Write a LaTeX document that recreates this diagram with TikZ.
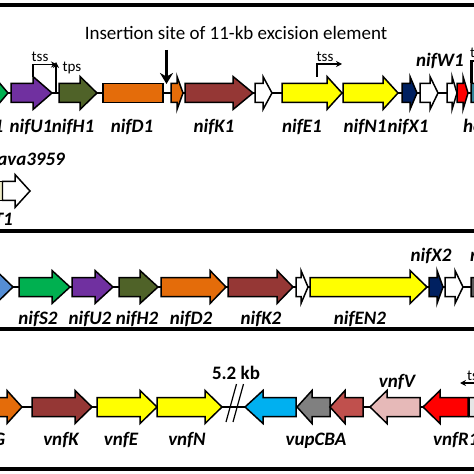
\documentclass[tikz,border=0pt]{standalone}
\usepackage{fontspec}
\setmainfont{Carlito}
\usepackage{tikz}
\usepackage{xcolor}
\usetikzlibrary{arrows.meta}

\definecolor{grn}{RGB}{0,176,80}
\definecolor{prp}{RGB}{112,48,160}
\definecolor{olv}{RGB}{79,98,40}
\definecolor{org}{RGB}{228,108,10}
\definecolor{brn}{RGB}{149,55,53}
\definecolor{ylw}{RGB}{255,255,0}
\definecolor{nvy}{RGB}{0,32,96}
\definecolor{stb}{RGB}{85,142,213}
\definecolor{sky}{RGB}{0,176,240}
\definecolor{gry}{RGB}{128,128,128}
\definecolor{dgy}{RGB}{89,89,89}
\definecolor{ird}{RGB}{192,80,77}
\definecolor{pnk}{RGB}{230,185,184}
\definecolor{tel}{RGB}{49,133,155}
\definecolor{bge}{RGB}{238,236,200}
\definecolor{lgy}{RGB}{230,230,230}

\newcommand{\gene}[5]{\filldraw [fill=#5, draw=black, line width=1.5pt] (#1,#4+0.95) -- (#2,#4+0.95) -- (#2,#4+1.65) -- (#3,#4) -- (#2,#4-1.65) -- (#2,#4-0.95) -- (#1,#4-0.95) -- cycle;}

\begin{document}
\begin{tikzpicture}[scale=0.3515]
\tikzstyle{every node}+=[inner sep=0pt]
\tikzstyle{lbl}=[font=\fontsize{19}{22}\selectfont\bfseries\itshape, anchor=base]
\tikzstyle{txt}=[font=\fontsize{19}{22}\selectfont, anchor=base]
\tikzstyle{sml}=[font=\fontsize{15}{18}\selectfont, anchor=base]
\tikzstyle{prom}=[line width=1.5pt, -{Stealth[length=6pt,width=6pt]}]
\useasboundingbox (0,0) rectangle (47.4,-47.4);
\fill [white] (0,0) rectangle (47.4,-47.4);
\clip (0,0) rectangle (47.4,-47.4);
\draw [line width=4pt] (0,-0.5) -- (47.4,-0.5);
\draw [line width=4pt] (0,-23.1) -- (47.4,-23.1);
\draw [line width=4pt] (0,-32.9) -- (47.4,-32.9);
\draw [line width=4pt] (0,-46.9) -- (47.4,-46.9);
\draw (23.6,-4.0) node [txt] {Insertion site of 11-kb excision element};
\draw [line width=1.5pt] (0,-9.3) -- (47.4,-9.3);
\gene{-3}{-0.6}{0.8}{-9.3}{grn}
\gene{1.1}{3.3}{5.2}{-9.3}{prp}
\gene{5.9}{8.0}{9.7}{-9.3}{olv}
\filldraw [fill=org, draw=black, line width=1.5pt] (10.3,-8.35) rectangle (16.3,-10.25);
\gene{17.1}{17.7}{18.3}{-9.3}{org}
\gene{18.5}{23.3}{25.3}{-9.3}{brn}
\gene{25.5}{26.3}{27.2}{-9.3}{white}
\gene{28.2}{32.7}{34.2}{-9.3}{ylw}
\gene{34.3}{38.3}{39.8}{-9.3}{ylw}
\gene{40.2}{41.0}{41.7}{-9.3}{nvy}
\gene{42.0}{43.0}{43.8}{-9.3}{white}
\gene{44.7}{45.2}{45.7}{-9.3}{white}
\gene{45.7}{46.3}{46.8}{-9.3}{red}
\gene{47.1}{49}{50}{-9.3}{tel}
\draw [line width=3pt, -{Stealth[length=11pt,width=13pt]}] (16.65,-5.0) -- (16.65,-8.4);
\draw [prom] (3.3,-7.7) -- (3.3,-6.45) -- (5.7,-6.45);
\draw (4.0,-6.2) node [sml] {tss};
\draw [prom] (5.6,-9.3) -- (5.6,-6.2);
\draw (7.2,-7.2) node [sml] {tps};
\draw [prom] (31.7,-7.7) -- (31.7,-6.4) -- (34.2,-6.4);
\draw (32.5,-6.2) node [sml] {tss};
\draw [line width=2.5pt] (47.15,-8.3) -- (47.15,-6.1) -- (48.5,-6.1);
\draw (47.0,-5.75) node [sml, anchor=base west] {tss};
\draw (0.35,-13.3) node [lbl, anchor=base east] {nifS1};
\draw (3.1,-13.3) node [lbl] {nifU1};
\draw (7.3,-13.3) node [lbl] {nifH1};
\draw (13.2,-13.3) node [lbl] {nifD1};
\draw (21.4,-13.3) node [lbl] {nifK1};
\draw (30.2,-13.3) node [lbl] {nifE1};
\draw (36.5,-13.3) node [lbl] {nifN1};
\draw (40.8,-13.3) node [lbl] {nifX1};
\draw (44.0,-6.7) node [lbl] {nifW1};
\draw (46.3,-13.3) node [lbl, anchor=base west] {hesA};
\filldraw [fill=bge, draw=black, line width=1.5pt] (-1,-18.15) rectangle (0.25,-20.05);
\gene{0.25}{1.5}{3.0}{-19.1}{white}
\draw (6.5,-16.6) node [lbl, anchor=base east] {ava3959};
\draw (1.3,-22.5) node [lbl, anchor=base east] {nifT1};
\draw [line width=1.5pt] (0,-28.7) -- (47.4,-28.7);
\gene{-3}{-0.4}{1.3}{-28.7}{stb}
\gene{1.9}{5.2}{7.0}{-28.7}{grn}
\gene{7.2}{9.5}{11.3}{-28.7}{prp}
\gene{11.9}{14.0}{15.8}{-28.7}{olv}
\gene{16.1}{21.0}{22.6}{-28.7}{org}
\gene{22.8}{27.7}{29.3}{-28.7}{brn}
\gene{29.6}{30.1}{30.8}{-28.7}{white}
\gene{31.0}{41.0}{42.7}{-28.7}{ylw}
\gene{42.9}{43.7}{44.3}{-28.7}{nvy}
\gene{44.5}{45.5}{46.3}{-28.7}{white}
\gene{47.1}{49}{50}{-28.7}{dgy}
\draw (3.8,-32.4) node [lbl] {nifS2};
\draw (9.0,-32.4) node [lbl] {nifU2};
\draw (13.7,-32.4) node [lbl] {nifH2};
\draw (19.1,-32.4) node [lbl] {nifD2};
\draw (26.1,-32.4) node [lbl] {nifK2};
\draw (36.0,-32.4) node [lbl] {nifEN2};
\draw (43.1,-26.1) node [lbl] {nifX2};
\draw (47.0,-26.1) node [lbl, anchor=base west] {nifW2};
\draw [line width=1.5pt] (0,-40.7) -- (47.4,-40.7);
\gene{-3}{0.7}{2.2}{-40.7}{org}
\gene{3.2}{7.5}{9.2}{-40.7}{brn}
\gene{9.7}{14.0}{15.7}{-40.7}{ylw}
\gene{15.7}{20.5}{22.2}{-40.7}{ylw}
\draw [line width=1.2pt] (22.6,-42.2) -- (23.65,-38.4);
\draw [line width=1.2pt] (23.3,-42.2) -- (24.35,-38.4);
\draw (23.6,-37.9) node [txt, font=\fontsize{19}{22}\selectfont\bfseries] {5.2 kb};
\gene{29.6}{26.3}{24.5}{-40.7}{sky}
\gene{33.0}{31.2}{29.7}{-40.7}{gry}
\gene{36.3}{34.5}{33.0}{-40.7}{ird}
\gene{42.0}{38.7}{37.0}{-40.7}{pnk}
\gene{46.8}{44.0}{42.3}{-40.7}{red}
\gene{46.9}{49}{50}{-40.7}{lgy}
\draw [prom] (47.8,-39.5) -- (47.8,-38.3) -- (46.0,-38.3);
\draw (46.7,-38.0) node [sml, anchor=base west] {tss};
\draw (0.55,-44.5) node [lbl, anchor=base east] {vnfG};
\draw (6.1,-44.5) node [lbl] {vnfK};
\draw (12.1,-44.5) node [lbl] {vnfE};
\draw (18.7,-44.5) node [lbl] {vnfN};
\draw (31.6,-44.5) node [lbl] {vupCBA};
\draw (39.7,-38.7) node [lbl] {vnfV};
\draw (43.3,-44.5) node [lbl, anchor=base west] {vnfR1};
\end{tikzpicture}
\end{document}
